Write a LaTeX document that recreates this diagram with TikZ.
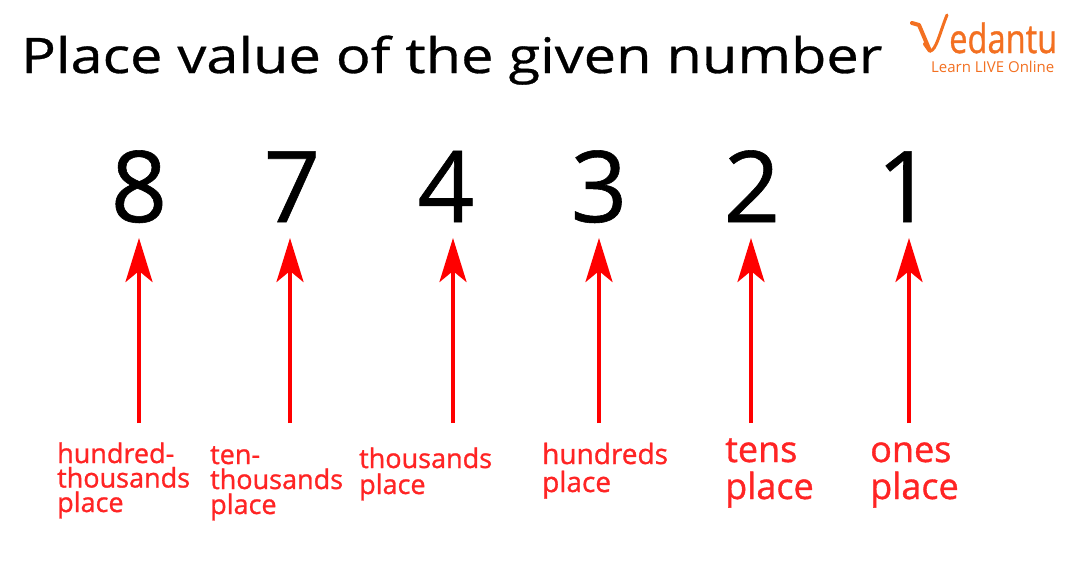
\documentclass[tikz,border=0pt]{standalone}
\usepackage{fontspec}
\setmainfont{Open Sans}
\newfontfamily\heavyfont[FakeBold=0.6]{Open Sans}
\newfontfamily\semifont[FakeBold=1.0]{Open Sans}
\usetikzlibrary{arrows.meta}
\definecolor{vred}{HTML}{FF0000}
\definecolor{lred}{HTML}{FF2424}
\definecolor{vorange}{HTML}{F37021}
\tikzset{
  digit/.style={anchor=base, inner sep=0pt, font=\heavyfont\fontsize{99}{100}\selectfont},
  lbl/.style={anchor=base west, inner sep=0pt, align=left, text=lred},
  parrow/.style={draw=vred, line width=4pt, -{Stealth[length=44pt, width=27pt, inset=11pt]}}
}
\begin{document}
\begin{tikzpicture}[x=1pt,y=-1pt]
\useasboundingbox[fill=white] (0,0) rectangle (1080,576);
% title
\node[anchor=base west, inner sep=0pt] (title) at (21,73) {\scalebox{1.178}[1]{\heavyfont\fontsize{49}{55}\selectfont Place value of the given number}};
% logo
\draw[vorange, line width=4pt, line cap=round, line join=round]
  (912,23) -- (919,25) -- (930,51) -- (925,44);
\draw[vorange, line width=3pt, line cap=round]
  (930,51) .. controls (936,51) and (940,32) .. (947,15);
\node[anchor=base west, inner sep=0pt, text=vorange] (logo) at (949,53) {\scalebox{1.02}[1.25]{\semifont\fontsize{32}{34}\selectfont edantu}};
\node[anchor=base west, inner sep=0pt, text=vorange, font=\fontsize{15}{17}\selectfont] (tag) at (931,72) {Learn LIVE Online};
% digits
\node[digit] (d1) at (139,222) {8};
\node[digit] (d2) at (292,222) {7};
\node[digit] (d3) at (446,222) {4};
\node[digit] (d4) at (599,222) {3};
\node[digit] (d5) at (752,222) {2};
\node[digit] (d6) at (905,222) {1};
% arrows
\foreach \i/\x in {1/139,2/290,3/453,4/599,5/751,6/909}{
  \coordinate (b\i) at (\x,423);
  \coordinate (t\i) at (\x,238);
}
\foreach \i in {1,...,6}{ \draw[parrow] (b\i) -- (t\i); }
% labels (anchor at baseline of last line)
\node[lbl, font=\semifont\fontsize{27}{24.5}\selectfont] (l1) at (57,512) {hundred-\\thousands\\place};
\node[lbl, font=\semifont\fontsize{27}{25}\selectfont] (l2) at (210,514) {ten-\\thousands\\place};
\node[lbl, font=\semifont\fontsize{27}{26}\selectfont] (l3) at (359,494) {thousands\\place};
\node[lbl, font=\semifont\fontsize{28}{28}\selectfont] (l4) at (542,492) {hundreds\\place};
\node[lbl, font=\semifont\fontsize{36}{37}\selectfont] (l5) at (725,499) {tens\\place};
\node[lbl, font=\semifont\fontsize{36}{37}\selectfont] (l6) at (870,499) {ones\\place};
\end{tikzpicture}
\end{document}
